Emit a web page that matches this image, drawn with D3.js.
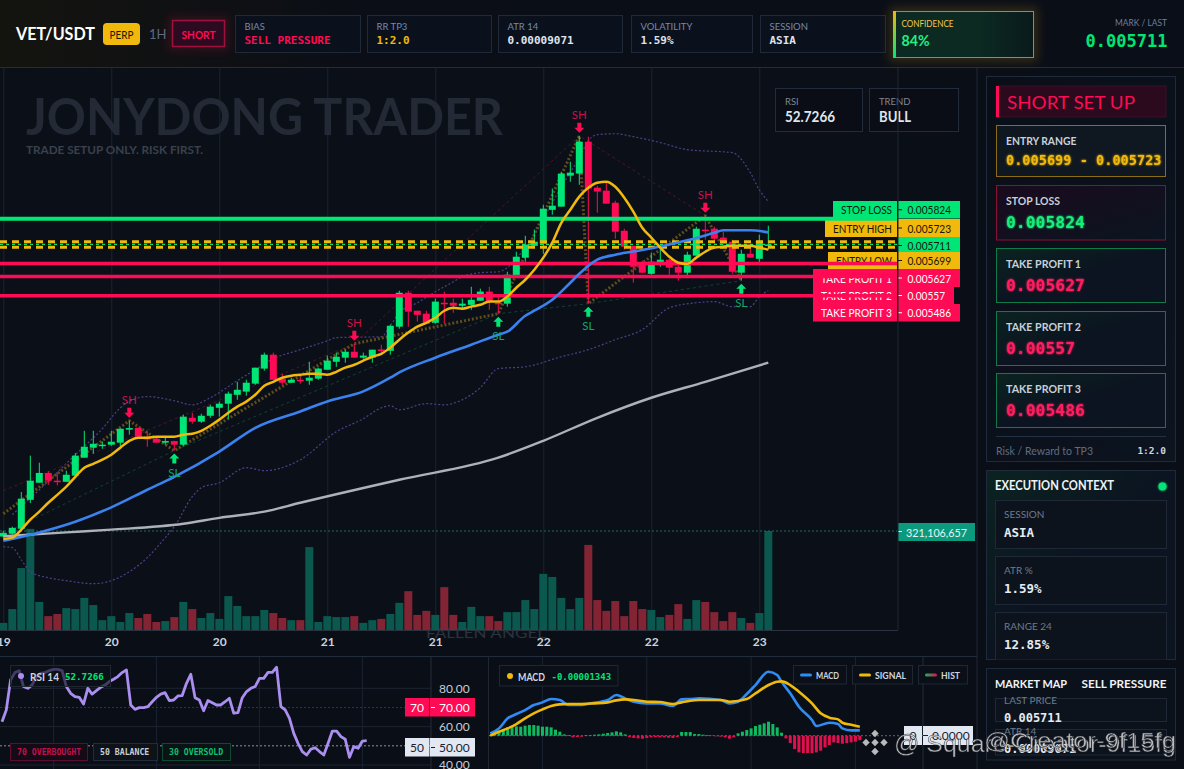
<!DOCTYPE html>
<html>
<head>
<meta charset="utf-8">
<title>VET/USDT</title>
<script src="https://cdn.jsdelivr.net/npm/d3@7"></script>
<style>
  html, body { margin: 0; padding: 0; background: #0a0f17; overflow: hidden; }
  svg { display: block; }
  text { font-family: Lato, "Noto Sans", sans-serif; }
  .mono { font-family: "DejaVu Sans Mono", monospace; font-weight: 700; }
</style>
</head>
<body>
<svg id="chart" width="1184" height="769"></svg>
<script>
// prices are in millionths of a USDT (5711 = 0.005711)
const candleOpen = [4429,4441,4463,4590,4665,4708,4674,4669,4696,4775,4819,4829,4832,4841,4898,4906,4867,4858,4841,4848,4832,4950,4933,4959,4994,5012,5051,5065,5100,5166,5227,5122,5104,5117,5113,5122,5161,5196,5214,5240,5214,5214,5250,5244,5350,5499,5420,5407,5367,5455,5455,5442,5446,5464,5504,5455,5451,5574,5653,5705,5714,5863,5877,6013,6022,6162,5960,5947,5894,5771,5705,5631,5582,5631,5644,5613,5587,5662,5776,5780,5741,5723,5587,5670,5648,5708];
const candleHigh = [4454,4472,4624,4784,4753,4716,4706,4718,4795,4893,4893,4846,4893,4902,4937,4906,4889,4860,4863,4849,4964,4972,4968,5007,5021,5065,5108,5117,5170,5236,5236,5144,5126,5130,5196,5170,5223,5236,5249,5275,5236,5249,5271,5359,5508,5508,5420,5420,5473,5504,5473,5473,5525,5517,5525,5490,5591,5679,5749,5776,5885,5956,6030,6074,6188,6184,5969,5986,5903,5780,5705,5640,5675,5688,5648,5626,5679,5789,5837,5789,5767,5732,5688,5710,5754,5793];
const candleLow = [4424,4437,4451,4576,4665,4656,4653,4669,4691,4775,4792,4814,4827,4823,4876,4867,4823,4841,4832,4806,4827,4924,4928,4950,4955,4946,5029,5047,5095,5157,5117,5095,5104,5100,5095,5117,5161,5174,5192,5214,5209,5192,5236,5227,5341,5350,5372,5363,5363,5363,5411,5424,5424,5464,5424,5407,5438,5574,5635,5705,5670,5842,5877,5986,5973,5451,5850,5890,5736,5688,5543,5587,5578,5613,5578,5552,5565,5662,5732,5723,5710,5582,5552,5653,5622,5688];
const candleClose = [4445,4467,4595,4674,4708,4674,4672,4700,4784,4823,4836,4832,4845,4902,4905,4867,4855,4841,4848,4832,4955,4933,4959,4999,5012,5056,5073,5104,5170,5227,5117,5104,5117,5115,5126,5166,5201,5218,5240,5214,5223,5249,5248,5354,5499,5416,5402,5363,5460,5453,5442,5451,5468,5504,5460,5453,5578,5657,5710,5723,5868,5881,6022,6026,6162,5956,5943,5890,5767,5701,5613,5587,5635,5644,5609,5587,5666,5780,5771,5736,5714,5591,5670,5653,5727,5711];
// volume, millions
const volume = [23,68,201,328,91,45,52,71,68,104,81,32,45,26,55,39,52,26,29,42,91,68,39,55,36,110,78,45,45,65,55,39,32,32,269,26,45,42,42,45,23,32,36,52,88,126,49,62,49,139,49,26,75,45,45,29,58,58,97,68,182,172,104,68,104,276,97,62,94,45,94,68,65,42,49,84,36,97,91,58,29,58,39,23,55,321.1];

const emaFast = [4418,4424,4459,4503,4538,4577,4612,4648,4691,4731,4748,4766,4788,4819,4849,4863,4863,4867,4867,4867,4876,4880,4893,4915,4942,4972,4999,5021,5051,5091,5108,5126,5135,5139,5143,5143,5139,5152,5170,5183,5201,5218,5231,5258,5293,5324,5350,5367,5389,5420,5433,5429,5438,5446,5460,5460,5482,5521,5556,5600,5653,5719,5806,5863,5921,5960,5982,5986,5964,5916,5855,5784,5741,5697,5657,5631,5626,5653,5679,5697,5701,5705,5705,5705,5697,5688];

const emaMidBars = [0,4,8,12,16,19,24,28,33,36,40,43,44,48,52,55,56,58,59,61,63,64,66,68,70,73,76,79,80,83,85];
const emaMidValues = [4410,4447,4494,4557,4634,4691,4802,4906,4978,5022,5066,5126,5149,5214,5271,5315,5328,5398,5420,5468,5543,5582,5644,5666,5680,5702,5729,5762,5773,5773,5764];
const emaSlowBars = [0,7,12,20,24,29,33,44,55,60,66,72,78,85];
const emaSlowValues = [4430,4447,4459,4485,4511,4538,4577,4678,4775,4849,4950,5038,5108,5192];

const bandUpperBars = [1,4,8,11,13,15,16,19,21,23,26,28,30,33,36,37,42,43,44,46,48,50,51,53,55,58,61,62,64,65,66,68,70,73,76,81,83,84,85];
const bandUpperValues = [4525,4634,4788,4902,4994,5038,5043,5025,5007,5038,5113,5161,5209,5249,5288,5302,5306,5354,5411,5455,5503,5547,5569,5587,5591,5697,5894,5964,6092,6166,6193,6197,6184,6158,6127,6114,6026,5951,5899];
const bandLowerBars = [0,1,2,3,5,7,10,12,14,16,18,19,21,22,24,27,29,33,37,40,42,43,44,47,49,51,53,55,58,62,65,68,71,74,77,79,81,83,84,85];
const bandLowerValues = [4384,4380,4327,4274,4248,4235,4222,4235,4274,4336,4424,4472,4604,4643,4665,4731,4718,4766,4889,4946,4994,5003,4985,5012,5007,5029,5082,5166,5174,5218,5249,5293,5337,5433,5455,5460,5438,5438,5482,5508];

const swingHighBars = [14,39,64,78];
const swingLowBars = [19,55,65,82];
const zigzagBars = [0,14,19,39,55,64,65,78,82];
const zigzagValues = [4529,4937,4806,5275,5407,6188,5451,5837,5552];
const upperTrendBars = [0,39,64,78];
const upperTrendValues = [4630,5275,6188,5837];
const lowerTrendBars = [0,19,55,65,82];
const lowerTrendValues = [4441,4806,5407,5451,5552];

const timeTickBars = [0,12,24,36,48,60,72,84];
const timeTickLabels = ['19','20','20','21','21','22','22','23'];
const rsiTickBars = [12,36,60,84];
const macdTickBars = [12,36,60,84];

const stopLoss = 5824, entryHigh = 5723, entryLow = 5699, lastPrice = 5711, tp1 = 5627, tp2 = 5570, tp3 = 5486;

const rsi14 = [62.6,68.7,84.3,88.2,89.2,80.9,80,81.7,86,87.8,88.2,89.2,89.9,89.9,89.2,80.9,77.4,75.7,75.3,71.8,80,77,78.8,80.5,81.7,83.5,84.7,86.1,88.2,89.6,71.3,69,69.9,69.9,70.4,73,75.3,77,77.7,73.6,73.9,76,76.2,82.6,87.3,75.1,73.9,68.3,73.6,72.5,71.3,71.3,73,74.8,67,67.3,75.1,78.3,80,80.9,85.2,85.2,88.3,88.3,91,70.4,68.7,64.3,56.5,51.3,47,45.2,48.3,49,47,45.2,51.3,57.7,57.7,54.8,53.4,44,49.6,48.7,52.5,52.73];
const rsiTicks = [80,60,40];

// MACD in millionths as well
const macdBars = [0,2,4,6,8,10,12,14,16,18,21,23,27,29,31,33,36,39,42,44,46,48,53,55,57,59,61,64,66,67,69,71,74,75,78,80,81,83,85];
const macdValues = [7,22,52,65,77,92,100,110,107,92,92,97,107,122,112,102,97,97,89,109,110,112,107,97,102,125,152,192,182,162,127,87,47,29,39,35,22,16,16];
const signalBars = [0,2,4,6,8,10,12,14,16,18,21,24,27,29,31,33,36,39,42,44,46,48,53,55,59,61,64,66,67,69,71,74,76,78,80,81,83,85];
const signalValues = [0,12,22,35,52,67,79,89,94,95,95,97,100,106,109,107,102,101,95,100,105,107,107,102,110,127,152,162,163,152,132,97,67,54,49,39,33,27];
const macdHist = [2,6,15,20,25,28,28,27,30,32,32,30,27,27,25,18,12,4,2,-5,-4,-3,2,2,3,4,6,8,10,13,10,4,-4,-7,-8,-9,-7,-5,-4,-5,-5,-6,-7,-4,11,11,11,5,5,3,2,1,-2,-3,-5,-9,-5,7,12,17,22,29,33,37,42,35,25,9,-8,-22,-40,-50,-52,-52,-52,-50,-45,-35,-28,-20,-22,-24,-22,-20,-18,-13.43];

const headerStats = [
  ['BIAS', 'SELL PRESSURE', '#ff0a54'],
  ['RR TP3', '1:2.0', '#f0b90b'],
  ['ATR 14', '0.00009071', '#dde4ee'],
  ['VOLATILITY', '1.59%', '#dde4ee'],
  ['SESSION', 'ASIA', '#dde4ee']
];
const setupRows = [
  ['STOP LOSS', '0.005824', '#14f078'],
  ['TAKE PROFIT 1', '0.005627', '#ff1f5f'],
  ['TAKE PROFIT 2', '0.00557', '#ff1f5f'],
  ['TAKE PROFIT 3', '0.005486', '#ff1f5f']
];
const contextRows = [['SESSION', 'ASIA'], ['ATR %', '1.59%'], ['RANGE 24', '12.85%']];
const marketRows = [['LAST PRICE', '0.005711'], ['ATR 14', '0.00009071']];

const GREEN = '#00e676', RED = '#ff0a54', YELLOW = '#f0b90b', GRID = '#1c2330';

const svg = d3.select('#chart');
const defs = svg.append('defs');

function blur(id, dev) {
  const f = defs.append('filter').attr('id', id)
    .attr('x', '-30%').attr('y', '-60%').attr('width', '160%').attr('height', '220%');
  f.append('feGaussianBlur').attr('in', 'SourceGraphic').attr('stdDeviation', dev).attr('result', 'b');
  const m = f.append('feMerge');
  m.append('feMergeNode').attr('in', 'b');
  m.append('feMergeNode').attr('in', 'SourceGraphic');
}
blur('glowSoft', 1.2);
defs.append('filter').attr('id', 'haze').attr('x', '-30%').attr('y', '-60%').attr('width', '160%').attr('height', '220%')
  .append('feGaussianBlur').attr('stdDeviation', 5);

function gradient(id, stops, x2 = 1, y2 = 0) {
  const g = defs.append('linearGradient').attr('id', id)
    .attr('x1', 0).attr('y1', 0).attr('x2', x2).attr('y2', y2);
  stops.forEach(s => g.append('stop').attr('offset', s[0]).attr('stop-color', s[1]));
}
gradient('headBg', [[0, '#14140f'], [0.3, '#0b0e16'], [1, '#0a0e18']]);
gradient('confBg', [[0, '#0c2a22'], [0.6, '#0c2a22'], [1, '#0a1a1c']]);
gradient('confStripe', [[0, YELLOW], [1, GREEN]], 0, 1);
gradient('panelBg', [[0, '#0a0e17'], [1, '#0c1420']], 1, 1);
gradient('greenCard', [[0, '#0b2320'], [0.5, '#0b1420'], [1, '#0b1520']], 1, 1);
gradient('redCard', [[0, '#1a0b1e'], [1, '#0b1420']], 1, 1);
gradient('histSwatch', [[0, '#10b860'], [1, '#e0104f']]);

function rect(g, x, y, w, h, fill, stroke, sw = 1, rx = 0) {
  return g.append('rect').attr('x', x).attr('y', y).attr('width', w).attr('height', h)
    .attr('fill', fill || 'none').attr('stroke', stroke || 'none').attr('stroke-width', sw).attr('rx', rx);
}
function text(g, str, x, y, size, fill, opts = {}) {
  const t = g.append('text').attr('x', x).attr('y', y)
    .attr('font-size', size).attr('fill', fill)
    .attr('dominant-baseline', 'central')
    .attr('text-anchor', opts.anchor || 'start')
    .attr('font-weight', opts.weight || 400)
    .text(str);
  if (opts.mono) t.attr('class', 'mono');
  if (opts.spacing) t.attr('letter-spacing', opts.spacing);
  if (opts.filter) t.attr('filter', `url(#${opts.filter})`);
  // the reference font is narrower than any of the installed ones
  if (opts.width) t.attr('textLength', opts.width).attr('lengthAdjust', 'spacingAndGlyphs');
  return t;
}

// ---------- scales
const x = d3.scaleLinear().domain([0, 85]).range([3.3, 768.3]);
const y = d3.scaleLinear().domain([stopLoss, tp3]).range([218.7, 295.7]);
const yVol = d3.scaleLinear().domain([0, 321.1]).range([630, 531]);
const xRsi = d3.scaleLinear().domain([0, 85]).range([2, 366.7]);
const yRsi = d3.scaleLinear().domain([80, 40]).range([688.3, 765]);
const xMacd = d3.scaleLinear().domain([0, 85]).range([490.3, 859.8]);
const yMacd = d3.scaleLinear().domain([0, 192]).range([735.7, 671.7]);

// ---------- backgrounds
rect(svg, 0, 0, 1184, 769, '#0a0f17');
rect(svg, 0, 68, 898, 562, '#0b1018');
rect(svg, 0, 0, 1184, 67, 'url(#headBg)');

// ---------- main pane
const main = svg.append('g');
defs.append('clipPath').attr('id', 'mainClip').append('rect').attr('x', 0).attr('y', 68).attr('width', 897).attr('height', 562);
defs.append('clipPath').attr('id', 'rsiClip').append('rect').attr('x', 0).attr('y', 657).attr('width', 431).attr('height', 112);
defs.append('clipPath').attr('id', 'macdClip').append('rect').attr('x', 489).attr('y', 657).attr('width', 434).attr('height', 112);

const timeAxis = d3.axisBottom(x).tickValues(timeTickBars)
  .tickFormat((d, i) => timeTickLabels[i]).tickSize(-562).tickPadding(9);
const timeG = main.append('g').attr('transform', 'translate(0,630)').call(timeAxis);
timeG.select('.domain').remove();
timeG.selectAll('line').attr('stroke', GRID);
timeG.selectAll('text').attr('fill', '#ccd3de').attr('font-size', 12).attr('font-weight', 700)
  .attr('font-family', 'Lato, sans-serif').attr('dy', '0.6em');

text(main, 'JONYDONG TRADER', 26, 115, 52, '#242a35', { weight: 700, width: 477 });
text(main, 'TRADE SETUP ONLY. RISK FIRST.', 26, 149, 12, '#3a404c', { weight: 700, width: 177 });
text(main, 'FALLEN ANGEL', 426, 633, 13, '#2c323e', { width: 120 });

const plot = main.append('g').attr('clip-path', 'url(#mainClip)');

plot.selectAll('rect.vol').data(volume).enter().append('rect').attr('class', 'vol')
  .attr('x', (d, i) => x(i) - 4).attr('width', 8)
  .attr('y', d => yVol(d)).attr('height', d => 630 - yVol(d))
  .attr('fill', (d, i) => candleClose[i] >= candleOpen[i] ? '#0a584e' : '#822434');

plot.append('line').attr('x1', 0).attr('x2', 897).attr('y1', yVol(321.1)).attr('y2', yVol(321.1))
  .attr('stroke', '#1b6a60').attr('stroke-dasharray', '2 2');

const sparse = (bars, vals, xs = x, ys = y, curve = d3.curveLinear) =>
  d3.line().x(i => xs(bars[i])).y(i => ys(vals[i])).curve(curve)(d3.range(bars.length));

function drawPath(g, d, stroke, width, dash, opacity = 1) {
  return g.append('path').attr('d', d).attr('fill', 'none').attr('stroke', stroke)
    .attr('stroke-width', width).attr('stroke-dasharray', dash || null)
    .attr('stroke-linejoin', 'round').attr('opacity', opacity);
}

drawPath(plot, sparse(bandUpperBars, bandUpperValues, x, y, d3.curveMonotoneX), '#4f3f8a', 1.2, '2 2');
drawPath(plot, sparse(bandLowerBars, bandLowerValues, x, y, d3.curveMonotoneX), '#4f3f8a', 1.2, '2 2');
drawPath(plot, sparse(upperTrendBars, upperTrendValues), '#4a1530', 1, '3 3');
drawPath(plot, sparse(lowerTrendBars, lowerTrendValues), '#143f30', 1, '3 3');
drawPath(plot, sparse(zigzagBars, zigzagValues), '#5f4b1c', 3, '2 2');

// candles
const candles = plot.selectAll('g.candle').data(candleOpen).enter().append('g').attr('class', 'candle');
const candleColor = i => candleClose[i] >= candleOpen[i] ? GREEN : RED;
candles.append('line')
  .attr('x1', (d, i) => x(i)).attr('x2', (d, i) => x(i))
  .attr('y1', (d, i) => y(candleHigh[i])).attr('y2', (d, i) => y(candleLow[i]))
  .attr('stroke', (d, i) => candleColor(i)).attr('stroke-width', 1);
candles.append('rect')
  .attr('x', (d, i) => x(i) - 3.5).attr('width', 7)
  .attr('y', (d, i) => y(Math.max(candleOpen[i], candleClose[i])))
  .attr('height', (d, i) => Math.max(1.5, Math.abs(y(candleOpen[i]) - y(candleClose[i]))))
  .attr('fill', (d, i) => candleColor(i));

// price labels, the level lines run over them
const labels = main.append('g');
const levelRows = [
  ['STOP LOSS', '0.005824', GREEN, '#0b1a14', 833, 201, 17.5, 960, 51],
  ['ENTRY HIGH', '0.005723', YELLOW, '#1a1608', 825, 219, 18, 960, 59],
  ['', '0.005711', GREEN, '#0b1a14', 898, 237, 17, 960, 0],
  ['ENTRY LOW', '0.005699', YELLOW, '#1a1608', 828, 252, 17, 960, 56],
  ['TAKE PROFIT 1', '0.005627', RED, '#fff', 813, 269, 18, 960, 71],
  ['TAKE PROFIT 2', '0.00557', RED, '#fff', 813, 287, 17, 954, 71],
  ['TAKE PROFIT 3', '0.005486', RED, '#fff', 813, 304, 17.5, 960, 71]
];
levelRows.forEach(r => {
  const [name, val, bg, fg, x0, top, h, x1, nameWidth] = r;
  if (name) {
    rect(labels, x0, top, 897 - x0, h, bg);
    text(labels, name, 892, top + h / 2, 11.5, fg, { anchor: 'end', width: nameWidth });
  }
  rect(labels, 898, top, x1 - 898, h, bg);
  labels.append('line').attr('x1', 898).attr('x2', 902).attr('y1', top + h / 2).attr('y2', top + h / 2).attr('stroke', fg);
  text(labels, val, 907.5, top + h / 2, 11.5, fg, { width: val.length === 8 ? 43.5 : 37.5 });
});
rect(labels, 898, 523, 77, 18, '#0b9a7d');
labels.append('line').attr('x1', 898).attr('x2', 902).attr('y1', 531.5).attr('y2', 531.5).attr('stroke', '#fff');
text(labels, '321,106,657', 906, 532, 11.5, '#e8f4f0', { width: 61 });

const levels = main.append('g').attr('clip-path', 'url(#mainClip)');
const levelLine = (p, color, width, dash) => levels.append('line')
  .attr('x1', 0).attr('x2', 897).attr('y1', y(p)).attr('y2', y(p))
  .attr('stroke', color).attr('stroke-width', width).attr('stroke-dasharray', dash || null);
levelLine(stopLoss, GREEN, 4);
levelLine(tp1, RED, 3.5);
levelLine(tp2, RED, 3.5);
levelLine(tp3, RED, 3.5);
levelLine(entryHigh, YELLOW, 3, '7 5');
levelLine(entryLow, YELLOW, 3, '7 5');
levelLine(lastPrice, GREEN, 1.2, '3 3');

// moving averages
const emaFastLine = d3.line().x((d, i) => x(i)).y(d => y(d)).curve(d3.curveMonotoneX);
drawPath(levels, sparse(emaSlowBars, emaSlowValues, x, y, d3.curveMonotoneX), '#aeb0ba', 2.4);
drawPath(levels, sparse(emaMidBars, emaMidValues, x, y, d3.curveMonotoneX), '#3b82f0', 2.6);
drawPath(levels, emaFastLine(emaFast), YELLOW, 2.5);

// swing markers
const marks = main.append('g');
swingHighBars.forEach(i => {
  const tip = y(candleHigh[i]) - 3, cx = x(i);
  marks.append('path').attr('fill', RED)
    .attr('d', `M${cx - 2} ${tip - 10}h4v5h3l-5 5l-5 -5h3z`);
  text(marks, 'SH', cx, tip - 18, 11.5, '#c8104c', { anchor: 'middle' });
});
swingLowBars.forEach(i => {
  const tip = y(candleLow[i]) + 3, cx = x(i);
  marks.append('path').attr('fill', GREEN)
    .attr('d', `M${cx - 2} ${tip + 10}h4v-5h3l-5 -5l-5 5h3z`);
  text(marks, 'SL', cx, tip + 19, 11.5, '#0ca868', { anchor: 'middle' });
});

// overlays top right of the pane
[['RSI', '52.7266', 775, 87, 50], ['TREND', 'BULL', 869, 89, 32]].forEach(r => {
  rect(main, r[2] + 0.5, 88.5, r[3], 43, '#0a0d15', '#232c3c');
  text(main, r[0], r[2] + 10, 101, 9.5, '#7d8798');
  text(main, r[1], r[2] + 10, 116, 14.5, '#dfe5ee', { weight: 700, width: r[4] });
});

// frame of the main pane
svg.append('line').attr('x1', 0).attr('x2', 898).attr('y1', 630.5).attr('y2', 630.5).attr('stroke', '#2a3240');
svg.append('line').attr('x1', 898).attr('x2', 898).attr('y1', 68).attr('y2', 630).attr('stroke', '#1f2733');
svg.append('line').attr('x1', 977).attr('x2', 977).attr('y1', 68).attr('y2', 769).attr('stroke', '#1f2937');
svg.append('line').attr('x1', 0).attr('x2', 1184).attr('y1', 67.5).attr('y2', 67.5).attr('stroke', '#232c3c');
svg.append('line').attr('x1', 0).attr('x2', 977).attr('y1', 656.5).attr('y2', 656.5).attr('stroke', '#232c3c');
svg.append('line').attr('x1', 488.5).attr('x2', 488.5).attr('y1', 656).attr('y2', 769).attr('stroke', '#1f2733');

// ---------- header
const head = svg.append('g');
text(head, 'VET/USDT', 16, 33.5, 16.5, '#ffffff', { weight: 700, width: 79 });
rect(head, 103, 23, 37, 22, YELLOW, null, 1, 4);
text(head, 'PERP', 121.5, 34, 11, '#1a1608', { anchor: 'middle', width: 24 });
text(head, '1H', 149, 34, 13, '#5d6b82');
rect(head, 168, 16, 61, 35, '#ff0a54').attr('opacity', 0.14).attr('filter', 'url(#haze)');
rect(head, 172.5, 20.5, 52, 26, '#2c0a20', '#a0103c', 1.5);
text(head, 'SHORT', 198.5, 34, 12, RED, { anchor: 'middle', weight: 700, width: 34 });

const headBoxes = [235, 367, 498, 631, 760], headWidths = [125, 124, 124, 121, 125];
headerStats.forEach((s, i) => {
  rect(head, headBoxes[i] + 0.5, 15.5, headWidths[i], 37, '#0b111c', '#1f2937');
  text(head, s[0], headBoxes[i] + 9.5, 26, 9.5, '#7689a8');
  text(head, s[1], headBoxes[i] + 9.5, 40, 11, s[2], { mono: true });
});

rect(head, 889, 7, 149, 55, YELLOW).attr('opacity', 0.16).attr('filter', 'url(#haze)');
rect(head, 893.5, 11.5, 140, 46, 'url(#confBg)', '#b08a12');
rect(head, 893, 11, 3, 47, 'url(#confStripe)');
text(head, 'CONFIDENCE', 901.5, 23, 9.5, '#f2c94c', { width: 52 });
text(head, '84%', 901.5, 40, 15.5, '#20f080', { weight: 700, width: 28 });

text(head, 'MARK / LAST', 1167, 22, 9.5, '#6f7f9a', { anchor: 'end', width: 52 });
text(head, '0.005711', 1167.5, 40.5, 17, GREEN, { anchor: 'end', mono: true });

// ---------- RSI pane
const rsiG = svg.append('g');
rsiTicks.forEach(v => rsiG.append('line').attr('x1', 0).attr('x2', 431).attr('y1', yRsi(v)).attr('y2', yRsi(v)).attr('stroke', GRID));
rsiTickBars.forEach(b => rsiG.append('line').attr('x1', xRsi(b)).attr('x2', xRsi(b)).attr('y1', 657).attr('y2', 769).attr('stroke', GRID));
rsiG.append('line').attr('x1', 431).attr('x2', 431).attr('y1', 657).attr('y2', 769).attr('stroke', '#232c3c');
rsiG.append('line').attr('x1', 0).attr('x2', 431).attr('y1', yRsi(70)).attr('y2', yRsi(70)).attr('stroke', '#6a1a38').attr('stroke-dasharray', '2 2');
rsiG.append('line').attr('x1', 0).attr('x2', 431).attr('y1', yRsi(50)).attr('y2', yRsi(50)).attr('stroke', '#8a92a0').attr('stroke-dasharray', '2 2');

const rsiLine = d3.line().x((d, i) => xRsi(i)).y(d => yRsi(d));
drawPath(rsiG.append('g').attr('clip-path', 'url(#rsiClip)'), rsiLine(rsi14), '#ab8ff0', 2.8);

const rsiAxis = d3.axisRight(yRsi).tickValues(rsiTicks).tickFormat(d3.format('.2f')).tickSize(0).tickPadding(8);
const rsiAxisG = rsiG.append('g').attr('transform', 'translate(431,0)').call(rsiAxis);
rsiAxisG.select('.domain').remove();
rsiAxisG.selectAll('text').attr('fill', '#c5ccd8').attr('font-size', 12).attr('font-family', 'Lato, sans-serif');

rect(rsiG, 405, 698, 24.5, 18.5, RED);
rect(rsiG, 430, 698, 45, 18.5, RED);
text(rsiG, '70', 417, 707.5, 12, '#fff', { anchor: 'middle' });
text(rsiG, '70.00', 439, 707.5, 12, '#fff');
rsiG.append('line').attr('x1', 431).attr('x2', 435).attr('y1', 707.5).attr('y2', 707.5).attr('stroke', '#fff');
rect(rsiG, 405, 738, 24.5, 18.5, '#e2e8f2');
rect(rsiG, 430, 738, 45, 18.5, '#e2e8f2');
text(rsiG, '50', 417, 747.5, 12, '#1a2030', { anchor: 'middle' });
text(rsiG, '50.00', 439, 747.5, 12, '#1a2030');
rsiG.append('line').attr('x1', 431).attr('x2', 435).attr('y1', 747.5).attr('y2', 747.5).attr('stroke', '#1a2030');

rect(rsiG, 10.5, 665.5, 100, 21, '#0b1018', '#1f2733').attr('fill-opacity', 0.65);
rsiG.append('circle').attr('cx', 21).attr('cy', 676).attr('r', 3).attr('fill', '#ab8ff0');
text(rsiG, 'RSI 14', 30, 676.5, 11, '#d0d6e0', { weight: 700, width: 29 });
text(rsiG, '52.7266', 65, 676.5, 9.2, GREEN, { mono: true });

[['70 OVERBOUGHT', 10, 77, '#5a0f2e', '#c4104c', '#140b16'],
 ['50 BALANCE', 93, 64, '#232c3c', '#c8ced8', '#0e1219'],
 ['30 OVERSOLD', 162, 68, '#0f4a30', '#0cc070', '#0a1416']].forEach(r => {
  rect(rsiG, r[1] + 0.5, 743.5, r[2], 17, r[5], r[3]);
  text(rsiG, r[0], r[1] + 7, 752, 8.2, r[4], { mono: true });
});

// ---------- MACD pane
const macdG = svg.append('g');
macdTickBars.forEach(b => macdG.append('line').attr('x1', xMacd(b)).attr('x2', xMacd(b)).attr('y1', 657).attr('y2', 769).attr('stroke', GRID));
macdG.append('line').attr('x1', 923).attr('x2', 923).attr('y1', 657).attr('y2', 769).attr('stroke', '#232c3c');
macdG.append('line').attr('x1', 489).attr('x2', 923).attr('y1', yMacd(0)).attr('y2', yMacd(0)).attr('stroke', '#5a6270').attr('stroke-dasharray', '2 2');

const macdPlot = macdG.append('g').attr('clip-path', 'url(#macdClip)');
macdPlot.selectAll('rect').data(macdHist).enter().append('rect')
  .attr('x', (d, i) => xMacd(i) - 1.5).attr('width', 3)
  .attr('y', d => Math.min(yMacd(d), yMacd(0)))
  .attr('height', d => Math.abs(yMacd(d) - yMacd(0)))
  .attr('fill', d => d >= 0 ? '#10b860' : '#e0104f');
drawPath(macdPlot, sparse(macdBars, macdValues, xMacd, yMacd, d3.curveMonotoneX), '#2f8cf5', 2.6);
drawPath(macdPlot, sparse(signalBars, signalValues, xMacd, yMacd, d3.curveMonotoneX), YELLOW, 2.6);

rect(macdG, 499.5, 665.5, 118.5, 20.5, '#0b1018', '#1f2733');
macdG.append('circle').attr('cx', 510).attr('cy', 676).attr('r', 3).attr('fill', YELLOW);
text(macdG, 'MACD', 518, 676.5, 11, '#d0d6e0', { weight: 700, width: 27 });
text(macdG, '-0.00001343', 551.5, 676.5, 9, GREEN, { mono: true });

[['MACD', 793, 53, '#2f8cf5', 23], ['SIGNAL', 852, 60, YELLOW, 31], ['HIST', 918, 49, 'url(#histSwatch)', 19]].forEach(r => {
  rect(macdG, r[1] + 0.5, 665.5, r[2], 18.5, '#0b1018', '#1f2733');
  macdG.append('rect').attr('x', r[1] + 7).attr('y', 673.5).attr('width', 12).attr('height', 3).attr('rx', 1.5).attr('fill', r[3]);
  text(macdG, r[0], r[1] + 23, 675, 9.5, '#d0d6e0', { weight: 700, width: r[4] });
});
rect(macdG, 904, 726, 18, 19, '#e2e8f2');
rect(macdG, 923, 726, 50, 19, '#e2e8f2');
text(macdG, '0', 913, 735.5, 12, '#1a2030', { anchor: 'middle' });
text(macdG, '0.0000', 932, 735.5, 12, '#1a2030');
macdG.append('line').attr('x1', 923).attr('x2', 928).attr('y1', 735.5).attr('y2', 735.5).attr('stroke', '#1a2030');

// ---------- side panels
const side = svg.append('g');
rect(side, 986.5, 76.5, 189, 385, 'url(#panelBg)', '#1f2a3a');
rect(side, 996, 86, 170, 31, '#2a0a1c', '#3a0f28');
rect(side, 996, 86, 3, 31, RED);
text(side, 'SHORT SET UP', 1007, 101.5, 18, RED, { width: 128 });

rect(side, 996.5, 125.5, 169, 51, '#0f1720', '#8a6d14');
text(side, 'ENTRY RANGE', 1006, 140, 11, '#c8d0dc', { weight: 700, width: 70.5 });
text(side, '0.005699 - 0.005723', 1006, 160, 13.6, YELLOW, { mono: true, filter: 'glowSoft' });

const setupLabelWidths = [54, 75, 75, 75];
[185, 248, 311, 373].forEach((top, i) => {
  const r = setupRows[i];
  rect(side, 996.5, top + 0.5, 169, i ? 54 : 54.5, i ? 'url(#greenCard)' : 'url(#redCard)', i ? '#0f7a4a' : '#8a1034');
  text(side, r[0], 1006, top + 15, 11, '#c8d0dc', { weight: 700, width: setupLabelWidths[i] });
  text(side, r[1], 1006, top + 37, 16.4, r[2], { mono: true, filter: 'glowSoft' });
});
side.append('line').attr('x1', 996).attr('x2', 1166).attr('y1', 436.5).attr('y2', 436.5).attr('stroke', '#232f42');
text(side, 'Risk / Reward to TP3', 996, 450.5, 10.5, '#5f6c80', { width: 97 });
text(side, '1:2.0', 1166, 450.5, 9.5, '#cdd5e0', { anchor: 'end', mono: true });

rect(side, 986.5, 470.5, 189, 189, 'url(#greenCard)', '#1f2a3a');
text(side, 'EXECUTION CONTEXT', 995, 485.5, 12.5, '#f0f3f7', { weight: 700, width: 119 });
side.append('circle').attr('cx', 1162.5).attr('cy', 486.5).attr('r', 4).attr('fill', GREEN).attr('filter', 'url(#glowSoft)');
defs.append('clipPath').attr('id', 'ctxClip').append('rect').attr('x', 986).attr('y', 470).attr('width', 190).attr('height', 189.5);
const ctx = side.append('g').attr('clip-path', 'url(#ctxClip)');
[500, 556, 612].forEach((top, i) => {
  rect(ctx, 995.5, top + 0.5, 171, 48, '#0c131d', '#1e2836');
  text(ctx, contextRows[i][0], 1004, top + 13.5, 10, '#6e7a8c');
  text(ctx, contextRows[i][1], 1004, top + 32.5, 12.5, '#e6ebf2', { mono: true });
});

rect(side, 986.5, 668.5, 189, 91.5, '#0b111b', '#1f2a3a');
text(side, 'MARKET MAP', 995, 683.5, 12, '#f0f3f7', { weight: 700, width: 72 });
text(side, 'SELL PRESSURE', 1166.5, 683.5, 12, '#f0f3f7', { weight: 700, anchor: 'end', width: 85 });
[[698.5, 23], [729.5, 25.5]].forEach((b, i) => {
  rect(side, 995.5, b[0], 171, b[1], '#0c131d', '#1e2836');
  text(side, marketRows[i][0], 1004, b[0] + 1, 10, '#6e7a8c');
  text(side, marketRows[i][1], 1004, b[0] + 19, 12, '#e6ebf2', { mono: true });
});

// ---------- watermark over everything, two strings on top of each other
const wm = svg.append('g').attr('opacity', 0.85);
[[0, 0], [-9, 0], [9, 0], [0, -9], [0, 9]].forEach(o => {
  wm.append('rect').attr('x', -2.6).attr('y', -2.6).attr('width', 5.2).attr('height', 5.2)
    .attr('fill', '#d8d8d8')
    .attr('transform', `translate(${875 + o[0]},${742.5 + o[1]}) rotate(45)`);
});
const wmText = (str, wx, wy, size, len) => wm.append('text').attr('x', wx).attr('y', wy)
  .attr('font-size', size).attr('fill', '#d8d8d8')
  .attr('stroke', '#20242c').attr('stroke-width', 0.5)
  .attr('style', 'font-family: "Liberation Sans", sans-serif')
  .attr('textLength', len).attr('lengthAdjust', 'spacingAndGlyphs').text(str);
wmText('@ Square-Creator-9f15fg', 894, 752, 23, 282);
wmText('@Creator-9f15fg', 984, 748, 22, 192);
</script>
</body>
</html>
